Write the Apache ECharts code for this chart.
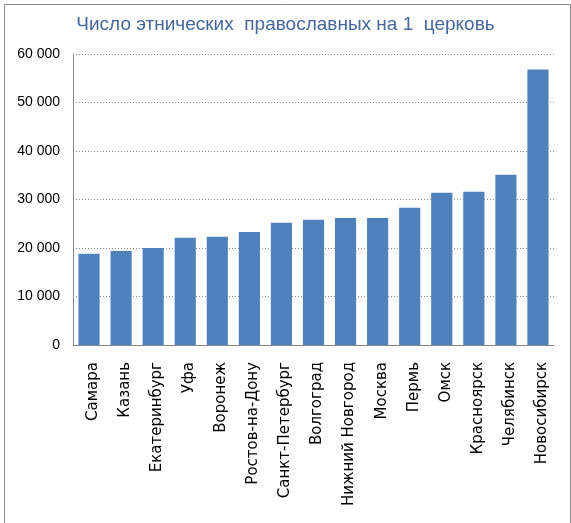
<!DOCTYPE html>
<html><head><meta charset="utf-8">
<script src="https://cdn.jsdelivr.net/npm/echarts@6/dist/echarts.min.js"></script>
<style>html,body{margin:0;padding:0;background:#fff}#c{width:571px;height:523px}</style>
</head><body><div id="c"></div>
<script>
const titleText = 'Число этнических  православных на 1  церковь';
const categories = ['Самара','Казань','Екатеринбург','Уфа','Воронеж','Ростов-на-Дону','Санкт-Петербург','Волгоград','Нижний Новгород','Москва','Пермь','Омск','Красноярск','Челябинск','Новосибирск'];
const values = [18800, 19400, 20000, 22100, 22300, 23300, 25200, 25800, 26200, 26200, 28300, 31400, 31600, 35100, 56800];
const yTicks = { min: 0, max: 60000, interval: 10000 };

const chart = echarts.init(document.getElementById('c'));
chart.setOption({
  animation: false,
  backgroundColor: '#fff',
  title: {
    text: titleText, left: 'center', top: 10,
    textStyle: { fontFamily: 'Liberation Sans', fontWeight: 'normal', fontSize: 19, color: '#44689a' }
  },
  graphic: [{
    type: 'rect', left: 2, top: 2, shape: { width: 566, height: 519 },
    style: { fill: 'none', stroke: '#8c8c8c', lineWidth: 1 }, silent: true
  }],
  grid: { left: 73, right: 17, top: 54, bottom: 178 },
  xAxis: {
    type: 'category', data: categories,
    axisLine: { lineStyle: { color: '#868686' } },
    axisTick: { show: false },
    axisLabel: { rotate: 90, interval: 0, margin: 17, verticalAlign: 'top', lineHeight: 8, color: '#000', fontFamily: 'DejaVu Sans', fontSize: 15 }
  },
  yAxis: {
    type: 'value', min: yTicks.min, max: yTicks.max, interval: yTicks.interval,
    axisLine: { show: true, lineStyle: { color: '#868686' } },
    axisTick: { show: false },
    splitLine: { lineStyle: { color: '#8a8a8a', type: [1, 2] } },
    axisLabel: {
      margin: 13, color: '#000', fontFamily: 'Liberation Sans', fontSize: 14,
      formatter: v => v === 0 ? '0' : String(v).replace(/\B(?=(\d{3})+(?!\d))/g, ' ')
    }
  },
  series: [{
    type: 'bar', data: values, barCategoryGap: '34%',
    itemStyle: { color: '#4f81bd' }
  }]
});
</script></body></html>
